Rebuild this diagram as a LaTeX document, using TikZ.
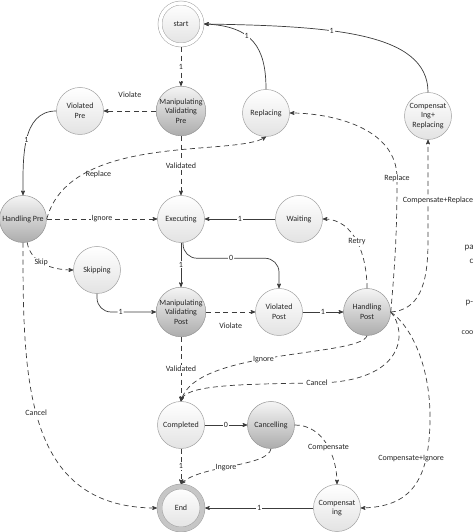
\documentclass[tikz,border=0pt]{standalone}
\usepackage{fontspec}
\setmainfont{Carlito}
\usepackage{tikz}
\usetikzlibrary{arrows,positioning,calc}

\definecolor{edgegray}{HTML}{3C3C3C}
\definecolor{ringgray}{HTML}{A0A0A0}

\begin{document}
\begin{tikzpicture}[->,>=stealth',x=1pt,y=1pt,node distance=90pt,
        line width=0.7pt,color=edgegray,
        main node/.style={circle,draw=ringgray,line width=0.5pt,top color=white,bottom color=gray!22,
          minimum size=47pt,inner sep=0pt,align=center,text=black!85,font=\fontsize{8}{9.5}\selectfont},
        dark node/.style={main node,draw=gray!85,top color=gray!8,bottom color=gray!65},
        start node/.style={main node,double=white,double distance=3.5pt,minimum size=42pt,outer sep=2.2pt},
        end node/.style={main node,double=gray!45,double distance=4.5pt,minimum size=43pt,outer sep=2.6pt},
        lbl/.style={fill=white,inner sep=1pt,text=black!85,font=\fontsize{8}{9.5}\selectfont},
        dashed edge/.style={dash pattern=on 5pt off 3.5pt}]

      \useasboundingbox (0,0) rectangle (474,532);

      \node[start node] (start) at (181,508) {start};
      \node[dark node] (mvpre) [node distance=87pt, below of=start] {Manipulating\\Validating\\Pre};
      \node[main node] (vpre) [node distance=101pt, left of=mvpre] {Violated\\Pre};
      \node[main node] (repl) [node distance=85pt, right of=mvpre, yshift=-2pt] {Replacing};
      \node[main node] (comprepl) [node distance=162pt, right of=repl, yshift=-3pt] {Compensat\\Ing+\\Replacing};
      \node[main node] (exec) [node distance=108pt, below of=mvpre] {Executing};
      \node[dark node] (hpre) [node distance=158pt, left of=exec] {Handling Pre};
      \node[main node] (wait) [node distance=118pt, right of=exec] {Waiting};
      \node[main node] (skip) [node distance=74pt, right of=hpre, yshift=-51pt] {Skipping};
      \node[dark node] (mvpost) [node distance=93pt, below of=exec] {Manipulating\\Validating\\Post};
      \node[main node] (vpost) [node distance=98pt, right of=mvpost] {Violated\\Post};
      \node[dark node] (hpost) [node distance=88pt, right of=vpost] {Handling\\Post};
      \node[main node] (compl) [node distance=113pt, below of=mvpost] {Completed};
      \node[dark node] (canc) [node distance=90pt, right of=compl] {Cancelling};
      \node[end node] (end) [node distance=83pt, below of=compl] {End};
      \node[main node] (comp) [node distance=156pt, right of=end] {Compensat\\ing};

      % bits of the next figure, cut at the edge
      \node[anchor=west, text=black!80, font=\fontsize{9}{10}\selectfont] (frag1) at (461,284) {pa};
      \node[anchor=west, text=black!80, font=\fontsize{9}{10}\selectfont] (frag2) at (466,271) {c};
      \node[anchor=west, text=black!80, font=\fontsize{9}{10}\selectfont] (frag3) at (462,229) {p-};
      \node[anchor=west, text=black!80, font=\fontsize{8}{10}\selectfont] (frag4) at (458,199) {coo};

      \path[every node/.style={lbl}]
      (start) edge[dashed edge] node {1} (mvpre)
      (mvpre) edge[dashed edge] node[above=12pt, fill=none] {Violate} (vpre)
              edge[dashed edge] node {Validated} (exec)
      (vpre) edge[out=180, in=90] node {1} (hpre)
      (hpre) edge[dashed edge] node {Ignore} (exec)
             edge[dashed edge, out=-80, in=180] node[pos=0.45] {Skip} (skip)
             edge[dashed edge, out=-90, in=180, looseness=1.15] node[pos=0.46] {Cancel} (end)
      (wait) edge node {1} (exec)
      (exec) edge node {1} (mvpost)
      (mvpost) edge[dashed edge] node[below=10pt, fill=none] {Violate} (vpost)
               edge[dashed edge] node {Validated} (compl)
      (vpost) edge node {1} (hpost)
      (hpost) edge[dashed edge, out=90, in=0] node {Retry} (wait)
      (compl) edge node {0} (canc)
              edge[dashed edge] node {1} (end)
      (canc) edge[dashed edge, out=0, in=90] node[pos=0.55] {Compensate} (comp)
      (comp) edge node {1} (end);

      % back to start
      \draw (repl) .. controls (266,485) and (252,506) .. (start.east) node[lbl, pos=0.6] {1};
      \draw (comprepl.north) .. controls (428,500) and (330,506) .. (start.east) node[lbl, pos=0.62] {1};

      \draw[dashed edge] (hpre.east) .. controls (70,400) and (235,375) .. (repl.south)
        node[lbl, fill=none, pos=0.3, below=3pt] {Replace};
      \draw[rounded corners=14pt] (exec.-85) |- ($(vpost.north)+(0,30)$) node[lbl, pos=0.75] {0} -- (vpost.north);
      \draw[rounded corners=14pt] (skip.south) |- node[lbl, pos=0.7] {1} (mvpost.west);

      % out of Handling Post
      \draw[dashed edge] (hpost.east) to[out=85, in=-90] (397,354) node[lbl] {Replace}
        .. controls (397,405) and (330,419) .. (repl.east);
      \draw[dashed edge] (hpost.east) .. controls (418,222) and (428,245) .. (428,290)
        -- node[lbl, pos=0.41, xshift=10pt] {Compensate+Replace} (comprepl.south);
      \draw[dashed edge] (hpost.south) .. controls (360,175) and (195,183) .. (compl.north)
        node[lbl, pos=0.55] {Ignore};
      \draw[dashed edge] (hpost.east) .. controls (408,200) and (405,150) .. (317,149) node[lbl] {Cancel}
        .. controls (230,148) and (185,146) .. (compl.north);
      \draw[dashed edge] (hpost.east) .. controls (412,205) and (430,165) .. (430,115)
        .. controls (430,50) and (410,25) .. (comp.east) node[lbl, pos=0.25, xshift=-15pt] {Compensate+Ignore};
      \draw[dashed edge] (canc.south) .. controls (268,65) and (200,67) .. (end.north)
        node[lbl, pos=0.55] {Ingore};
    \end{tikzpicture}
\end{document}
